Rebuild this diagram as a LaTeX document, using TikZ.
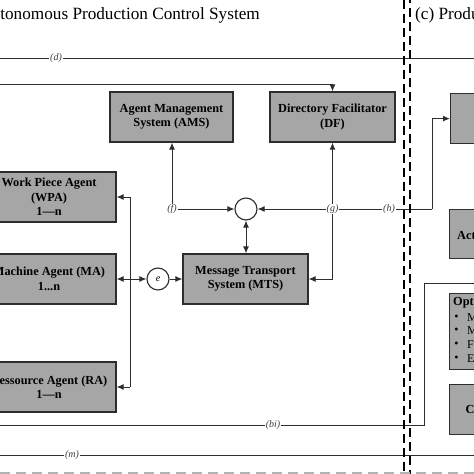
\documentclass[tikz,border=0pt]{standalone}
\usepackage{fontspec}
\setmainfont{Liberation Serif}
\usetikzlibrary{arrows.meta}
\definecolor{boxgray}{RGB}{166,166,166}
\definecolor{linec}{RGB}{45,45,45}
\definecolor{lblc}{RGB}{60,60,60}
\newcommand{\boxfont}{\fontsize{12.3}{14.5}\selectfont\bfseries}
\newcommand{\lblfont}{\fontsize{10}{10}\selectfont\itshape}
\newcommand{\titlefont}{\fontsize{17.2}{19}\selectfont}
\begin{document}
\begin{tikzpicture}[x=1pt,y=-1pt,
  box/.style={draw=linec, fill=boxgray, line width=1.2pt, inner sep=0pt, align=center, font=\boxfont},
  conn/.style={draw=linec, line width=1pt},
  arr/.style={conn, -{Latex[length=7pt,width=6pt]}},
  barr/.style={conn, {Latex[length=7pt,width=6pt]}-{Latex[length=7pt,width=6pt]}},
  lbl/.style={fill=white, inner sep=0.8pt, font=\lblfont, text=lblc},
  ring/.style={circle, draw=linec, line width=1.1pt, fill=white, minimum size=22pt, inner sep=0pt},
  sep/.style={draw=black, line width=2pt, dash pattern=on 9pt off 5pt},
  plain/.style={font=\fontsize{12}{14}\selectfont},
]
\useasboundingbox (0,0) rectangle (474,474);
\clip (0,0) rectangle (474,474);

% titles
\node[anchor=base east, font=\titlefont, inner sep=0pt] (t1) at (260,19.5) {(b) Autonomous Production Control System};
\node[anchor=base west, font=\titlefont, inner sep=0pt] (t2) at (415,19.5) {(c) Production};

% boxes
\node[box, minimum width=123pt, minimum height=50pt] (ams) at (171.5,117) {Agent Management\\System (AMS)};
\node[box, minimum width=125pt, minimum height=50pt] (df) at (332.5,117) {Directory Facilitator\\(DF)};
\node[box, minimum width=125pt, minimum height=50pt] (mts) at (245.5,279) {Message Transport\\System (MTS)};
\node[box, minimum width=134pt, minimum height=50pt] (wpa) at (49,197) {Work Piece Agent\\(WPA)\\1---n};
\node[box, minimum width=134pt, minimum height=50pt] (ma) at (49,279) {Machine Agent (MA)\\1...n};
\node[box, minimum width=134pt, minimum height=50pt] (ra) at (49,387) {Ressource Agent (RA)\\1---n};

\node[box, anchor=north west, minimum width=60pt, minimum height=50pt] (tr) at (450,93) {};
\node[box, anchor=north west, minimum width=60pt, minimum height=49pt] (act) at (449,209) {};
\node[anchor=west, font=\boxfont, inner sep=0pt] (actt) at (457,235) {Act};
\node[box, anchor=north west, minimum width=60pt, minimum height=76pt] (opt) at (449,293) {};
\node[anchor=base west, font=\boxfont, inner sep=0pt] (optt) at (453,305) {Opt};
\foreach \yy/\ll/\nn in {318/M/o1, 331/M/o2, 345/F/o3, 359/E/o4}{
  \node[plain, inner sep=0pt] (\nn b) at (456.5,\yy) {\textbullet};
  \node[plain, anchor=west, inner sep=0pt] (\nn) at (467,\yy) {\ll};
}
\node[box, anchor=north west, minimum width=60pt, minimum height=50pt] (cb) at (449,384) {};
\node[anchor=west, font=\boxfont, inner sep=0pt] (cbt) at (465.5,409) {C};

% circles
\node[ring] (hub) at (246,209) {};
\node[ring] (e) at (158,279) {\lblfont e};

% coordinates
\coordinate (dL) at (0,58);
\coordinate (dR) at (474,58);
\coordinate (fL) at (0,84);
\coordinate (f) at (172,209);
\coordinate (g) at (332.5,209);
\coordinate (hR) at (432,209);
\coordinate (bT) at (130,197);
\coordinate (bB) at (130,387);
\coordinate (biL) at (0,425);
\coordinate (biC) at (424,425);
\coordinate (biT) at (424,283);
\coordinate (biR) at (474,283);
\coordinate (mL) at (0,455);
\coordinate (mR) at (474,455);

% connectors
\draw[conn] (dL) -- (dR);
\draw[arr] (fL) -| (df.north);
\draw[arr] (f) -- (f |- ams.south);
\draw[arr] (f) -- (hub.west);
\draw[arr] (g) -- (df.south);
\draw[arr] (g) |- (mts.east);
\draw[arr] (hR) -- (hub.east);
\draw[arr] (hR) |- (tr.west);
\draw[barr] (hub.south) -- (hub.south |- mts.north);
\draw[arr] (e.east) -- (mts.west);
\draw[barr] (ma.east) -- (e.west);
\draw[conn] (bT) -- (bB);
\draw[arr] (bT) -- (wpa.east);
\draw[arr] (bB) -- (ra.east);
\draw[conn] (biL) -- (biC) -- (biT) -- (biR);
\draw[conn] (mL) -- (mR);

% labels
\node[lbl] (ld) at (56,58) {(d)};
\node[lbl] (lf) at (f) {(f)};
\node[lbl] (lg) at (g) {(g)};
\node[lbl] (lh) at (389,209) {(h)};
\node[lbl] (lbi) at (273,425) {(bi)};
\node[lbl] (lm) at (72,455) {(m)};

% separators
\draw[sep] (404,0) -- (404,474);
\draw[sep, dash phase=6pt] (409.5,0) -- (409.5,474);
\draw[draw=gray!60, line width=3.5pt, dash pattern=on 10pt off 6pt] (0,474) -- (474,474);
\end{tikzpicture}
\end{document}
